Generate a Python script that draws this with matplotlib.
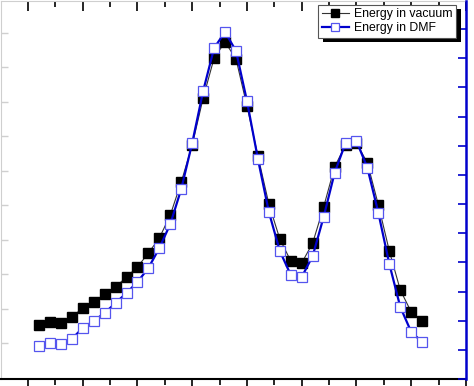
import matplotlib
matplotlib.use("Agg")
import matplotlib.pyplot as plt
import matplotlib.patches as mpatches
from matplotlib.ticker import MultipleLocator, FixedLocator
import numpy as np

plt.rcParams["font.family"] = ["Liberation Sans", "DejaVu Sans"]

# point index along the x axis
x = np.arange(1, 37)

energy_vacuum = [0.54, 0.57, 0.56, 0.62, 0.71, 0.77, 0.85, 0.92, 1.02, 1.12,
                 1.26, 1.41, 1.64, 1.97, 2.34, 2.81, 3.21, 3.37, 3.20, 2.73,
                 2.23, 1.75, 1.40, 1.18, 1.16, 1.36, 1.72, 2.12, 2.34, 2.36,
                 2.16, 1.74, 1.28, 0.89, 0.67, 0.58]
energy_dmf = [0.33, 0.36, 0.35, 0.40, 0.51, 0.58, 0.66, 0.76, 0.86, 0.97,
              1.11, 1.31, 1.55, 1.90, 2.36, 2.88, 3.31, 3.47, 3.28, 2.78,
              2.20, 1.67, 1.28, 1.04, 1.02, 1.23, 1.62, 2.06, 2.36, 2.38,
              2.11, 1.66, 1.15, 0.72, 0.47, 0.37]

labels = ["Energy in vacuum", "Energy in DMF"]
left_ticks = np.arange(0.36, 3.5, 0.3444)
right_ticks = np.arange(0, 3.7, 0.2915)

BLUE = "#0000cc"
FAINT = "#cfcfcf"

fig = plt.figure(figsize=(4.74, 3.86), dpi=100)
ax = fig.add_axes([1 / 474, 1 - 379 / 386, 465 / 474, 378 / 386])

ax.plot(x, energy_vacuum, color="#333333", lw=0.8, marker="s", ms=7,
        mfc="black", mec="black", label=labels[0], zorder=2)
ax.plot(x, energy_dmf, color=BLUE, lw=1.6, marker="s", ms=7,
        mfc="white", mec="#5555ee", mew=0.9, label=labels[1], zorder=3)

ax.set_xlim(-2.46, 40)
ax.set_ylim(0, 3.78)

ax.xaxis.set_major_locator(MultipleLocator(5))
ax.xaxis.set_minor_locator(MultipleLocator(2.5))
ax.yaxis.set_major_locator(FixedLocator(left_ticks))
ax.yaxis.set_minor_locator(FixedLocator([]))
ax.tick_params(axis="x", which="major", direction="out", length=7, width=1.2,
               color="black", top=True, bottom=True, labelbottom=False)
ax.tick_params(axis="x", which="minor", direction="out", length=4, width=1.2,
               color="black", top=True, bottom=True)
for t in ax.xaxis.get_major_ticks() + ax.xaxis.get_minor_ticks():
    t.tick2line.set_marker(3)  # top ticks point down into the axes
ax.tick_params(axis="y", direction="in", length=5, width=1, color=FAINT,
               labelleft=False)

ax.spines["left"].set_color(FAINT)
ax.spines["top"].set_color(FAINT)
ax.spines["bottom"].set_color("black")
ax.spines["bottom"].set_linewidth(1.5)
ax.spines["right"].set_visible(False)

ax2 = ax.twinx()
ax2.set_ylim(ax.get_ylim())
ax2.yaxis.set_major_locator(FixedLocator(right_ticks))
ax2.tick_params(axis="y", direction="in", length=6, width=1.2, color=BLUE,
                labelright=False)
ax2.spines["right"].set_color(BLUE)
ax2.spines["right"].set_linewidth(1.8)
for s in ["left", "top", "bottom"]:
    ax2.spines[s].set_visible(False)

leg = ax2.legend(*ax.get_legend_handles_labels(), loc="upper right",
                 bbox_to_anchor=(0.984, 0.997), fontsize=8.8, markerscale=0.75,
                 frameon=True, fancybox=False, framealpha=1,
                 edgecolor="#555555", handlelength=2.2, handletextpad=0.4,
                 borderpad=0.3, labelspacing=0.15, borderaxespad=0.2)
leg.get_frame().set_linewidth(0.8)
leg.set_zorder(10)

# hard drop shadow behind the legend box
fig.canvas.draw()
bb = leg.get_frame().get_window_extent()
shadow = mpatches.Rectangle((bb.x0 + 5, bb.y0 - 4), bb.width, bb.height,
                            transform=None, facecolor="black", edgecolor="none",
                            zorder=9, clip_on=False)
ax2.add_artist(shadow)

fig.savefig("out.png", dpi=100, facecolor="white")
